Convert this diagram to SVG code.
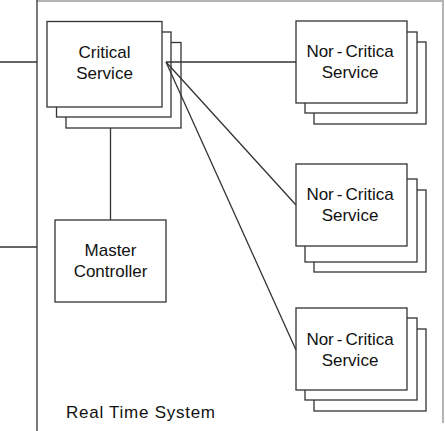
<svg xmlns="http://www.w3.org/2000/svg" width="445" height="431" viewBox="0 0 445 431">
<style>
.box{fill:#ffffff;stroke:#333333;stroke-width:1.3}
.ln{stroke:#333333;stroke-width:1.3;fill:none}
.frame{stroke:#b4b4b4;stroke-width:2;fill:none}
text{font-family:"Liberation Sans",Arial,sans-serif;font-size:17px;fill:#111111}
.c{text-anchor:middle}
</style>
<rect width="445" height="431" fill="#ffffff"/>
<g id="frame">
<line class="frame" x1="37" y1="1" x2="443" y2="1"/>
<line class="frame" x1="443" y1="0" x2="443" y2="423"/>
<line class="ln" x1="37" y1="0" x2="37" y2="431"/>
<text x="66" y="418" textLength="149">Real Time System</text>
</g>
<g id="critical-service">
<rect class="box" x="66" y="42.5" width="115" height="85.5"/>
<rect class="box" x="56.5" y="32" width="114.5" height="85"/>
<rect class="box" x="47" y="21.5" width="115" height="85.5"/>
<text class="c" x="104.5" y="58">Critical</text>
<text class="c" x="104.5" y="79">Service</text>
</g>
<g id="master-controller">
<rect class="box" x="55" y="220" width="111" height="82"/>
<text class="c" x="110.5" y="256">Master</text>
<text class="c" x="110.5" y="277">Controller</text>
</g>
<g id="non-critical-1">
<rect class="box" x="314" y="42" width="112" height="82"/>
<rect class="box" x="305" y="32" width="112" height="81"/>
<rect class="box" x="296" y="21" width="111" height="82"/>
<text class="c" x="350" y="57">Nor<tspan dx="3">-</tspan><tspan dx="3">Critica</tspan></text>
<text class="c" x="350" y="78">Service</text>
</g>
<g id="non-critical-2">
<rect class="box" x="314" y="190" width="112" height="82"/>
<rect class="box" x="305" y="179" width="112" height="83"/>
<rect class="box" x="296" y="164" width="111" height="82"/>
<text class="c" x="350" y="200">Nor<tspan dx="3">-</tspan><tspan dx="3">Critica</tspan></text>
<text class="c" x="350" y="221">Service</text>
</g>
<g id="non-critical-3">
<rect class="box" x="314" y="329" width="112" height="82"/>
<rect class="box" x="305" y="318" width="112" height="82"/>
<rect class="box" x="296" y="308" width="111" height="82"/>
<text class="c" x="350" y="345">Nor<tspan dx="3">-</tspan><tspan dx="3">Critica</tspan></text>
<text class="c" x="350" y="366">Service</text>
</g>
<g id="connectors">
<line class="ln" x1="0" y1="62" x2="37" y2="62"/>
<line class="ln" x1="0" y1="247" x2="37" y2="247"/>
<line class="ln" x1="166" y1="62" x2="296" y2="62"/>
<line class="ln" x1="166" y1="62" x2="296" y2="205"/>
<line class="ln" x1="166" y1="62" x2="296" y2="350"/>
<line class="ln" x1="110.5" y1="128" x2="110.5" y2="220"/>
</g>
</svg>
